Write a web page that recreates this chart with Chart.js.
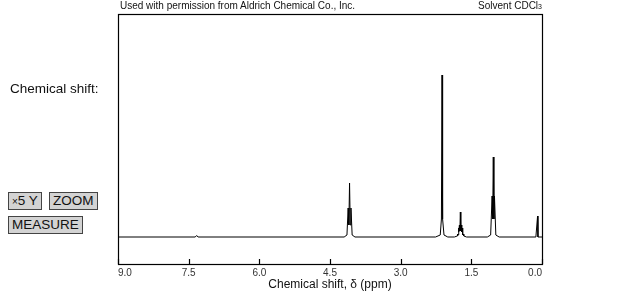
<!DOCTYPE html>
<html>
<head>
<meta charset="utf-8">
<script src="https://cdn.jsdelivr.net/npm/chart.js@4.4.1/dist/chart.umd.min.js"></script>
<style>
  body { margin: 0; background: #fff; font-family: "Liberation Sans", Arial, sans-serif; }
  #page { position: relative; width: 634px; height: 292px; overflow: hidden; }
  #page canvas { position: absolute; left: 0; top: 0; }
  .txt { position: absolute; white-space: nowrap; color: #111; }
  .btn { position: absolute; height: 16px; line-height: 16px; padding: 0 3px;
         background: #d3d3d3; border: 1px solid #444; font-size: 13.5px; color: #111; }
</style>
</head>
<body>
<div id="page">
  <canvas id="spectre" width="634" height="292"></canvas>
  <div class="txt" style="left:120px; top:0px; font-size:10px;">Used with permission from Aldrich Chemical Co., Inc.</div>
  <div class="txt" style="right:92px; top:0px; font-size:10px;">Solvent CDCl<span style="font-size:7px;">3</span></div>
  <div class="txt" style="left:10px; top:81px; font-size:13.5px;">Chemical shift:</div>
  <div class="btn" style="left:8px; top:192px;"><span style="font-size:10px;">×</span>5 Y</div>
  <div class="btn" style="left:49px; top:192px;">ZOOM</div>
  <div class="btn" style="left:8px; top:216px;">MEASURE</div>
</div>
<script>
// Graduations de l'axe des déplacements chimiques (ordre croissant pour Chart.js)
const xTicks = [0.0, 1.5, 3.0, 4.5, 6.0, 7.5, 9.0];

// Spectre RMN 1H : déplacement (ppm) et intensité
const ppm = [
  9.0, 7.36, 7.33, 7.30,
  4.20, 4.14, 4.115, 4.10, 4.085, 4.07, 4.055, 4.03, 3.97,
  2.26, 2.16, 2.135, 2.122, 2.11, 2.08, 2.00,
  1.86, 1.80, 1.793, 1.783, 1.773, 1.763, 1.753, 1.743, 1.733, 1.723, 1.713, 1.703, 1.693, 1.683, 1.673, 1.66, 1.60,
  1.16, 1.09, 1.059, 1.047, 1.034, 1.021, 1.009, 0.98, 0.91,
  0.13, 0.094, 0.086, 0.0
];
const intensity = [
  0, 0, 1.5, 0,
  0, 2, 29, 12, 54, 12, 29, 2, 0,
  0, 2, 18, 162, 18, 2, 0,
  0, 1, 3, 2, 9, 5, 12, 6, 25, 6, 12, 5, 9, 2, 3, 1, 0,
  0, 2, 41, 18, 80, 18, 41, 2, 0,
  0, 21, 0, 0
];

// Cadre du tracé et petites graduations vers l'intérieur
const cadre = {
  id: 'cadre',
  afterDatasetsDraw(chart) {
    const { ctx, chartArea: a, scales: { x } } = chart;
    ctx.save();
    ctx.strokeStyle = '#000';
    ctx.lineWidth = 1.2;
    ctx.strokeRect(Math.round(a.left) + 0.5, Math.round(a.top) + 0.5,
      Math.round(a.right - a.left), Math.round(a.bottom - a.top));
    ctx.beginPath();
    x.ticks.forEach(t => {
      const px = Math.round(x.getPixelForValue(t.value)) + 0.5;
      ctx.moveTo(px, a.bottom);
      ctx.lineTo(px, a.bottom - 5);
    });
    ctx.stroke();
    ctx.restore();
  }
};

const ctx = document.getElementById('spectre').getContext('2d');
new Chart(ctx, {
  type: 'line',
  data: {
    datasets: [{
      data: ppm.map((v, i) => ({ x: v, y: intensity[i] })),
      borderColor: '#000',
      borderWidth: 1,
      pointRadius: 0,
      tension: 0,
      fill: false
    }]
  },
  options: {
    responsive: false,
    animation: false,
    layout: { padding: { left: 118, right: 92, top: 14, bottom: 0 } },
    plugins: { legend: { display: false }, tooltip: { enabled: false } },
    scales: {
      x: {
        type: 'linear',
        reverse: true,
        min: 0,
        max: 9,
        afterBuildTicks: s => { s.ticks = xTicks.map(v => ({ value: v })); },
        afterFit: s => { s.height = 28; },
        grid: { display: false, drawTicks: false },
        border: { display: false },
        ticks: {
          align: 'inner',
          padding: 3,
          maxRotation: 0,
          autoSkip: false,
          color: '#333',
          font: { family: '"Liberation Sans", Arial, sans-serif', size: 10 },
          callback: v => Number(v).toFixed(1)
        },
        title: {
          display: true,
          text: 'Chemical shift, δ (ppm)',
          color: '#111',
          padding: 0,
          font: { family: '"Liberation Sans", Arial, sans-serif', size: 12 }
        }
      },
      y: { display: false, min: -27, max: 223 }
    }
  },
  plugins: [cadre]
});
</script>
</body>
</html>
